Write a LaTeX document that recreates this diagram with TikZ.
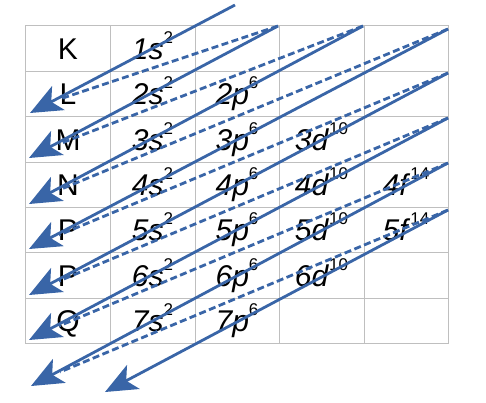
\documentclass[tikz,border=0pt]{standalone}
\usepackage{fontspec}
\setmainfont{Liberation Sans}
\usetikzlibrary{arrows.meta}
\definecolor{arrowblue}{RGB}{57,101,167}
\definecolor{gridgray}{RGB}{191,191,191}
\newcommand{\orb}[2]{\textit{#1}\raisebox{16pt}{\fontsize{17}{17}\selectfont #2}}
\tikzset{
	cell/.style={font=\fontsize{30}{32}\selectfont, inner sep=0pt, anchor=base},
	fillarrow/.style={line width=2.8pt, arrowblue, -{Stealth[length=32pt,width=27pt,inset=8pt]}},
	backline/.style={line width=2.8pt, arrowblue, dash pattern=on 7pt off 3.5pt},
	gridline/.style={line width=0.9pt, gridgray}
}

\begin{document}
\begin{tikzpicture}[x=1pt, y=-1pt]
				%%%%% START %%%%%
				\useasboundingbox (0, 0) rectangle (486, 402);
				
				\draw[gridline] (25, 25) rectangle (448, 343);
				\draw[gridline] (110, 25) -- (110, 343);
				\draw[gridline] (195, 25) -- (195, 343);
				\draw[gridline] (279, 25) -- (279, 343);
				\draw[gridline] (364, 25) -- (364, 343);
				\draw[gridline] (25, 71) -- (448, 71);
				\draw[gridline] (25, 116) -- (448, 116);
				\draw[gridline] (25, 162) -- (448, 162);
				\draw[gridline] (25, 207) -- (448, 207);
				\draw[gridline] (25, 252) -- (448, 252);
				\draw[gridline] (25, 298) -- (448, 298);
				
				\node[cell] (shK) at (68, 59) {K};
				\node[cell] (shL) at (68, 104.5) {L};
				\node[cell] (shM) at (68, 150) {M};
				\node[cell] (shN) at (68, 195.5) {N};
				\node[cell] (shP) at (68, 240.5) {P};
				\node[cell] (shPb) at (68, 286) {P};
				\node[cell] (shQ) at (68, 331.5) {Q};
				
				\node[cell] (o1s) at (152.5, 59) {\orb{1s}{2}};
				\node[cell] (o2s) at (152.5, 104.5) {\orb{2s}{2}};
				\node[cell] (o3s) at (152.5, 150) {\orb{3s}{2}};
				\node[cell] (o4s) at (152.5, 195.5) {\orb{4s}{2}};
				\node[cell] (o5s) at (152.5, 240.5) {\orb{5s}{2}};
				\node[cell] (o6s) at (152.5, 286) {\orb{6s}{2}};
				\node[cell] (o7s) at (152.5, 331.5) {\orb{7s}{2}};
				
				\node[cell] (o2p) at (237, 104.5) {\orb{2p}{6}};
				\node[cell] (o3p) at (237, 150) {\orb{3p}{6}};
				\node[cell] (o4p) at (237, 195.5) {\orb{4p}{6}};
				\node[cell] (o5p) at (237, 240.5) {\orb{5p}{6}};
				\node[cell] (o6p) at (237, 286) {\orb{6p}{6}};
				\node[cell] (o7p) at (237, 331.5) {\orb{7p}{6}};
				
				\node[cell] (o3d) at (321.5, 150) {\orb{3d}{10}};
				\node[cell] (o4d) at (321.5, 195.5) {\orb{4d}{10}};
				\node[cell] (o5d) at (321.5, 240.5) {\orb{5d}{10}};
				\node[cell] (o6d) at (321.5, 286) {\orb{6d}{10}};
				
				\node[cell] (o4f) at (406, 195.5) {\orb{4f}{14}};
				\node[cell] (o5f) at (406, 240.5) {\orb{5f}{14}};
				
				% start and end points of the diagonals
				\coordinate (st0) at (235, 5);
				\coordinate (st1) at (278, 26);
				\coordinate (st2) at (363, 26);
				\coordinate (st3) at (448, 29);
				\coordinate (st4) at (448, 73);
				\coordinate (st5) at (448, 118);
				\coordinate (st6) at (448, 163);
				\coordinate (st7) at (448, 210);
				
				\coordinate (tip1) at (30, 113);
				\coordinate (tip2) at (29, 158);
				\coordinate (tip3) at (29, 204);
				\coordinate (tip4) at (29, 249);
				\coordinate (tip5) at (29, 295);
				\coordinate (tip6) at (29, 340);
				\coordinate (tip7) at (31, 386);
				\coordinate (tip8) at (105, 392);
				
				\coordinate (end1) at (60, 99);
				\coordinate (end2) at (59, 144);
				\coordinate (end3) at (59, 190);
				\coordinate (end4) at (59, 235);
				\coordinate (end5) at (59, 281);
				\coordinate (end6) at (59, 326);
				\coordinate (end7) at (60, 372);
				
				\draw[backline] (st1) -- (end1);
				\draw[backline] (st2) -- (end2);
				\draw[backline] (st3) -- (end3);
				\draw[backline] (st4) -- (end4);
				\draw[backline] (st5) -- (end5);
				\draw[backline] (st6) -- (end6);
				\draw[backline] (st7) -- (end7);
				
				\draw[fillarrow] (st0) -- (tip1);
				\draw[fillarrow] (st1) -- (tip2);
				\draw[fillarrow] (st2) -- (tip3);
				\draw[fillarrow] (st3) -- (tip4);
				\draw[fillarrow] (st4) -- (tip5);
				\draw[fillarrow] (st5) -- (tip6);
				\draw[fillarrow] (st6) -- (tip7);
				\draw[fillarrow] (st7) -- (tip8);
				%%%%% END %%%%%
\end{tikzpicture}
\end{document}
